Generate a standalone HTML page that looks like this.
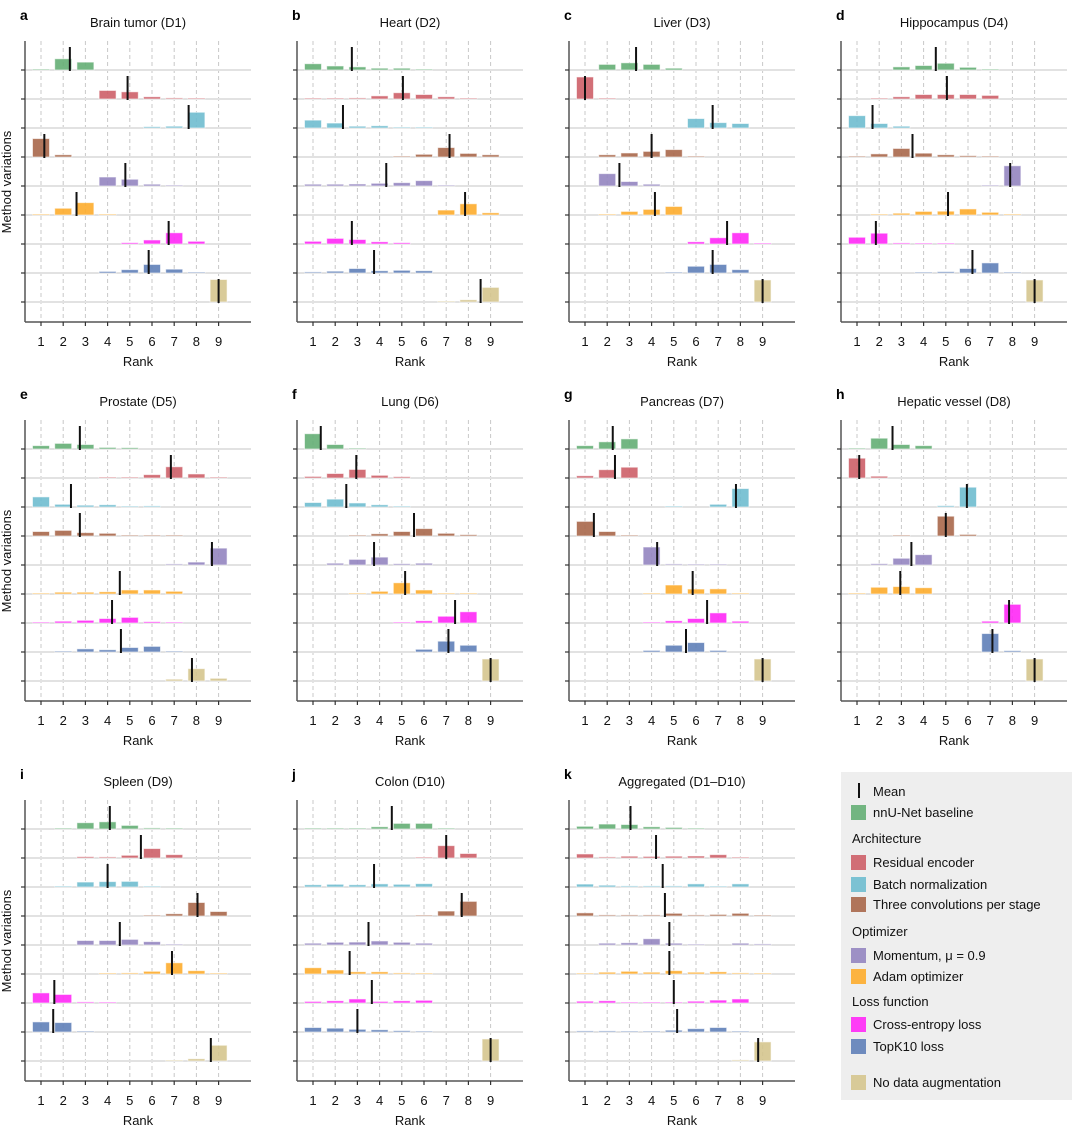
<!DOCTYPE html>
<html><head><meta charset="utf-8">
<style>
body{margin:0;background:#fff;}
svg{display:block;font-family:"Liberation Sans",sans-serif;}
</style></head>
<body>
<svg id="fig" width="1072" height="1133" viewBox="0 0 1072 1133"></svg>
<script>
const titles = ["Brain tumor (D1)","Heart (D2)","Liver (D3)","Hippocampus (D4)","Prostate (D5)","Lung (D6)","Pancreas (D7)","Hepatic vessel (D8)","Spleen (D9)","Colon (D10)","Aggregated (D1\u2013D10)"];
const letters = ["a","b","c","d","e","f","g","h","i","j","k"];
const rankLabels = ["1","2","3","4","5","6","7","8","9"];
const methods = ["nnU-Net baseline","Residual encoder","Batch normalization","Three convolutions per stage","Momentum, \u03bc = 0.9","Adam optimizer","Cross-entropy loss","TopK10 loss","No data augmentation"];
const colors = ["#64ae74","#cd5f68","#6fbccf","#a8674a","#9485c0","#fdac2c","#ff28f6","#5f7fb8","#d5c58e"];
const freqD1 = [[0.03,0.5,0.35,0,0,0,0,0,0],[0,0,0,0.38,0.32,0.1,0.05,0.02,0],[0,0,0,0,0,0.06,0.08,0.7,0],[0.82,0.1,0,0,0,0,0,0,0],[0,0,0,0.4,0.3,0.08,0.04,0,0],[0.01,0.3,0.55,0.02,0,0,0,0,0],[0,0,0,0,0.06,0.18,0.5,0.12,0],[0,0,0,0.07,0.15,0.38,0.17,0.02,0],[0,0,0,0,0,0,0,0,1.0]];
const meanD1 = [2.3,4.9,7.65,1.15,4.8,2.6,6.75,5.85,9];
const freqD2 = [[0.28,0.18,0.14,0.08,0.08,0.01,0,0,0],[0.01,0.01,0.05,0.14,0.28,0.2,0.1,0.02,0],[0.35,0.22,0.08,0.1,0.02,0.01,0,0,0],[0,0,0,0,0.01,0.12,0.42,0.16,0.1],[0.08,0.08,0.09,0.12,0.15,0.24,0.03,0,0],[0,0,0,0,0,0,0.22,0.5,0.1],[0.12,0.25,0.2,0.1,0.06,0,0,0,0],[0.05,0.08,0.2,0.1,0.12,0.1,0,0,0],[0,0,0,0,0,0,0.04,0.1,0.65]];
const meanD2 = [2.75,5.05,2.35,7.15,4.3,7.85,2.75,3.75,8.55];
const freqD3 = [[0,0.25,0.32,0.25,0.08,0,0,0,0],[0.98,0.01,0,0,0,0,0,0,0],[0,0,0,0,0,0.42,0.24,0.2,0],[0,0.1,0.18,0.25,0.33,0.03,0,0,0],[0,0.55,0.2,0.08,0,0,0,0,0],[0,0.01,0.16,0.25,0.38,0,0,0,0],[0,0,0,0,0,0.1,0.28,0.5,0.01],[0,0,0,0,0.03,0.3,0.38,0.15,0],[0,0,0,0,0,0,0,0,0.98]];
const meanD3 = [3.3,1.0,6.75,4.0,2.55,4.15,7.4,6.75,9];
const freqD4 = [[0,0,0.14,0.2,0.3,0.12,0.04,0,0],[0,0.01,0.1,0.2,0.2,0.2,0.16,0,0],[0.55,0.2,0.08,0,0,0,0,0,0],[0.03,0.14,0.38,0.17,0.1,0.06,0.02,0,0],[0,0,0,0,0,0,0.04,0.9,0],[0,0.01,0.08,0.16,0.17,0.27,0.12,0.02,0],[0.3,0.48,0.05,0.03,0.02,0,0,0,0],[0,0,0,0.03,0.06,0.2,0.45,0.04,0],[0,0,0,0,0,0,0,0,0.98]];
const meanD4 = [4.55,5.05,1.7,3.5,7.9,5.1,1.85,6.2,9];
const freqD5 = [[0.15,0.25,0.2,0.07,0.06,0,0,0,0],[0,0,0,0.01,0.01,0.15,0.5,0.18,0.03],[0.45,0.12,0.08,0.1,0.02,0.05,0,0,0],[0.2,0.25,0.15,0.12,0.04,0.01,0.01,0,0],[0,0,0,0,0,0,0.05,0.13,0.75],[0.03,0.08,0.08,0.1,0.18,0.18,0.12,0,0],[0.04,0.08,0.12,0.2,0.25,0.06,0.04,0,0],[0,0.04,0.14,0.1,0.2,0.25,0.02,0,0],[0,0,0,0,0,0,0.08,0.55,0.12]];
const meanD5 = [2.75,6.85,2.35,2.75,8.7,4.55,4.2,4.6,7.8];
const freqD6 = [[0.68,0.2,0.04,0,0,0,0,0,0],[0.07,0.2,0.38,0.12,0.06,0,0,0,0],[0.2,0.35,0.18,0.1,0.02,0,0,0,0],[0,0,0.01,0.1,0.2,0.33,0.12,0.06,0],[0,0.08,0.25,0.35,0.06,0.08,0,0,0],[0,0,0.02,0.12,0.5,0.18,0.02,0.01,0],[0,0,0,0,0.02,0.1,0.3,0.5,0],[0,0,0,0,0,0.12,0.48,0.3,0],[0,0,0,0,0,0,0,0,0.98]];
const meanD6 = [1.35,2.95,2.5,5.55,3.75,5.15,7.4,7.1,9];
const freqD7 = [[0.15,0.32,0.45,0,0,0,0,0,0],[0.1,0.37,0.48,0,0,0,0,0,0],[0,0,0,0,0.01,0,0.12,0.82,0],[0.65,0.2,0.04,0,0,0,0,0,0],[0,0,0,0.8,0.05,0.04,0.01,0,0],[0,0,0,0.02,0.4,0.22,0.23,0.03,0],[0,0,0,0.02,0.1,0.2,0.45,0.08,0],[0,0,0,0.07,0.3,0.42,0.07,0,0],[0,0,0,0,0,0,0,0,0.98]];
const meanD7 = [2.25,2.35,7.8,1.4,4.25,5.85,6.5,5.55,9];
const freqD8 = [[0.04,0.48,0.2,0.15,0,0,0,0,0],[0.88,0.08,0,0,0,0,0,0,0],[0,0,0,0,0.06,0.88,0,0,0],[0,0,0.01,0,0.88,0.07,0,0,0],[0,0.06,0.3,0.46,0,0,0,0,0],[0.01,0.3,0.33,0.28,0,0,0,0,0],[0,0,0,0,0,0,0.08,0.83,0],[0,0,0,0,0,0,0.82,0.06,0],[0,0,0,0,0,0,0,0,0.98]];
const meanD8 = [2.6,1.1,5.95,5.0,3.45,2.95,7.85,7.1,9];
const freqD9 = [[0,0.01,0.28,0.32,0.16,0.05,0.01,0,0],[0,0,0.06,0.05,0.12,0.42,0.15,0,0],[0,0.02,0.22,0.24,0.25,0.03,0,0,0],[0,0,0,0,0,0.01,0.1,0.6,0.2],[0,0,0.2,0.2,0.25,0.15,0.02,0,0],[0,0,0,0.01,0.05,0.12,0.5,0.15,0.02],[0.45,0.38,0.05,0.02,0,0,0,0,0],[0.45,0.42,0.01,0,0,0,0,0,0],[0,0,0,0,0,0,0.03,0.1,0.7]];
const meanD9 = [4.1,5.5,4.0,8.05,4.55,6.9,1.6,1.55,8.65];
const freqD10 = [[0.02,0.03,0.04,0.1,0.25,0.25,0.02,0,0],[0,0,0,0,0,0.04,0.55,0.2,0],[0.1,0.12,0.1,0.14,0.12,0.15,0,0,0],[0,0,0,0,0,0.01,0.22,0.65,0],[0.08,0.12,0.13,0.18,0.12,0.08,0,0,0],[0.28,0.18,0.1,0.1,0.05,0.03,0,0,0],[0.07,0.1,0.18,0.07,0.1,0.12,0,0,0],[0.2,0.17,0.12,0.1,0.06,0.03,0,0,0],[0,0,0,0,0,0,0,0,0.98]];
const meanD10 = [4.55,7.0,3.75,7.7,3.5,2.65,3.65,3.0,9];
const freqAgg = [[0.12,0.22,0.2,0.1,0.07,0.03,0,0,0],[0.18,0.05,0.08,0.07,0.08,0.09,0.15,0.01,0],[0.13,0.08,0.05,0.05,0.05,0.14,0.04,0.14,0],[0.14,0.05,0.05,0.05,0.12,0.05,0.07,0.12,0.01],[0,0.08,0.1,0.28,0.08,0.04,0,0.08,0.05],[0.02,0.08,0.12,0.08,0.15,0.08,0.1,0.05,0.01],[0.08,0.1,0.04,0.04,0.04,0.08,0.13,0.18,0],[0.05,0.05,0.04,0.04,0.08,0.15,0.2,0.04,0],[0,0,0,0,0,0,0,0.05,0.85]];
const meanAgg = [3.05,4.2,4.5,4.6,4.8,4.8,5.0,5.15,8.8];

const freqs=[freqD1,freqD2,freqD3,freqD4,freqD5,freqD6,freqD7,freqD8,freqD9,freqD10,freqAgg];
const means=[meanD1,meanD2,meanD3,meanD4,meanD5,meanD6,meanD7,meanD8,meanD9,meanD10,meanAgg];

const NS="http://www.w3.org/2000/svg";
const svg=document.getElementById('fig');
function mk(tag,attrs,parent){const e=document.createElementNS(NS,tag);for(const k in attrs)e.setAttribute(k,attrs[k]);(parent||svg).appendChild(e);return e;}
const colX=[25,297,569,841], rowY=[0,379,759];
const SCALE=22.5;
for(let p=0;p<11;p++){
  const ax=colX[p%4], oy=rowY[Math.floor(p/4)];
  const g=mk('g',{});
  
  
  const xs=r=>ax+16+(r-1)*22.2;
  const ys=i=>oy+70+i*29;
  const hs=v=>v*SCALE;
  const top=oy+41, bot=oy+322, right=ax+226;
  for(let r=1;r<=9;r++){
    const gl=mk('line',{x1:xs(r),x2:xs(r),y1:top,y2:bot,stroke:'#c8c8c8','stroke-width':1,'stroke-dasharray':'4,3'},g);
    
    
  }
  for(let i=0;i<9;i++){
    const bl=mk('line',{x1:ax,x2:right,y1:ys(i),y2:ys(i),stroke:'#e2e2e2','stroke-width':2},g);
    
    
  }
  const fr=freqs[p];
  for(let i=0;i<9;i++){
    for(let r=1;r<=9;r++){
      const v=fr[i][r-1]; if(v<=0) continue;
      const h=Math.max(hs(v),1);
      const b=mk('rect',{x:xs(r)-8.5,y:ys(i)-h,width:17,height:h,fill:colors[i],'fill-opacity':0.9,stroke:'#fff','stroke-opacity':0.6,'stroke-width':1},g);
      
      
    }
    const m=means[p][i];
    const ml=mk('line',{x1:xs(m),x2:xs(m),y1:ys(i)+1,y2:ys(i)-23,stroke:'#111','stroke-width':2},g);
    
    
  }
  const ya=mk('line',{x1:ax,x2:ax,y1:top,y2:bot,stroke:'#555','stroke-width':1.5},g);
  
  
  const xa=mk('line',{x1:ax,x2:right,y1:bot,y2:bot,stroke:'#555','stroke-width':1.5},g);
  
  
  for(let i=0;i<9;i++){
    const t=mk('line',{x1:ax-4,x2:ax,y1:ys(i),y2:ys(i),stroke:'#333','stroke-width':1.2},g);
    
    
  }
  for(let r=1;r<=9;r++){
    const t=mk('line',{x1:xs(r),x2:xs(r),y1:bot,y2:bot+4,stroke:'#333','stroke-width':1.2},g);
    
    
    const tl=mk('text',{x:xs(r),y:bot+24,'text-anchor':'middle','font-size':13,fill:'#111'},g);
    tl.textContent=rankLabels[r-1];
    
    
  }
  const xt=mk('text',{x:ax+113,y:oy+366,'text-anchor':'middle','font-size':13,fill:'#111'},g);
  xt.textContent='Rank';
  
  
  const tt=mk('text',{x:ax+113,y:oy+27,'text-anchor':'middle','font-size':13,fill:'#111'},g);
  tt.textContent=titles[p];
  
  
  const lt=mk('text',{x:ax-5,y:oy+20,'font-size':14,'font-weight':'bold',fill:'#000'},g);
  lt.textContent=letters[p];
  
  
  if(p%4===0){
    const yt=mk('text',{x:0,y:0,'text-anchor':'middle','font-size':13,fill:'#111',transform:'translate(11,'+(oy+182)+') rotate(-90)'},g);
    yt.textContent='Method variations';
    
    
  }
}
// legend
const lg=mk('g',{});


mk('rect',{x:841,y:772,width:231,height:328,fill:'#eeeeee'},lg);
const ml=mk('line',{x1:859,x2:859,y1:783,y2:798,stroke:'#111','stroke-width':2},lg);


const mt=mk('text',{x:873,y:796,'font-size':13,fill:'#111'},lg);
mt.textContent='Mean';


const legY=[812,862,884,904,955,976,1024,1046,1082];
for(let i=0;i<9;i++){
  const s=mk('rect',{x:851,y:legY[i]-7,width:15,height:15,fill:colors[i],'fill-opacity':0.9},lg);
  
  
  const t=mk('text',{x:873,y:legY[i]+5,'font-size':13,fill:'#111'},lg);
  t.textContent=methods[i];
  
  
}
const heads=[["Architecture",843],["Optimizer",936],["Loss function",1006]];
for(const h of heads){
  const t=mk('text',{x:852,y:h[1],'font-size':13,fill:'#111'},lg);
  t.textContent=h[0];
  
  
}
</script>
</body></html>
